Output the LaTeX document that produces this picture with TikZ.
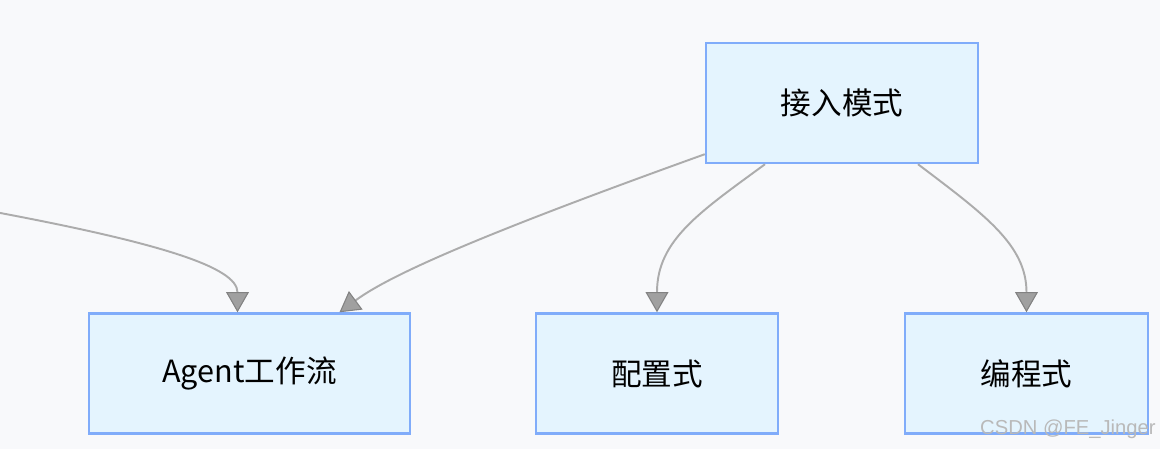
\documentclass[tikz,border=0pt]{standalone}
\usepackage{fontspec}
\setmainfont{Noto Sans CJK SC}
\newfontfamily\wmfont{Liberation Sans}
\usetikzlibrary{arrows.meta,calc}

\definecolor{bgcol}{RGB}{248,249,251}
\definecolor{boxfill}{RGB}{228,244,254}
\definecolor{boxline}{RGB}{128,172,250}
\definecolor{edgecol}{RGB}{172,172,172}
\definecolor{headcol}{RGB}{160,160,160}
\definecolor{headline}{RGB}{130,130,130}

\tikzset{
	box/.style={rectangle,draw=boxline,fill=boxfill,line width=1.4pt,
		minimum height=2.4cm,inner sep=0pt,font=\fontsize{17.4}{20}\selectfont},
	link/.style={draw=edgecol,line width=1.1pt,
		-{Triangle[length=11.5pt,width=13pt,fill=headcol,color=headline,line width=0.6pt]}}
}

\begin{document}
\begin{tikzpicture}[x=0.02cm,y=0.02cm]
	\fill[bgcol] (0,0) rectangle (1160,-449);
	\useasboundingbox (0,0) rectangle (1160,-449);
	\begin{scope}[every node/.style={box}]
	\node[minimum width=5.44cm] (mode) at (842,-103) {接入模式};
	\node[minimum width=6.42cm] (agent) at (249.5,-373.5) {Agent工作流};
	\node[minimum width=4.84cm] (cfg) at (657,-373.5) {配置式};
	\node[minimum width=4.86cm] (prog) at (1026.5,-373.5) {编程式};
	\end{scope}
	\coordinate (outside) at (-5,-212);
	\draw [link] (outside) .. controls (160,-243) and ($(agent.north)+(-12,45)$) .. ($(agent.north)+(-12,0)$);
	\draw [link] ($(mode.south west)+(0,10)$) .. controls (480,-235) and (390,-275) .. ($(agent.north)+(90,0)$);
	\draw [link] ($(mode.south)+(-77,0)$) .. controls (700,-212) and (657,-240) .. (cfg.north);
	\draw [link] ($(mode.south)+(76,0)$) .. controls (985,-215) and (1026.5,-245) .. (prog.north);
	\node[anchor=south east,text=gray!55,font=\wmfont\fontsize{11.5}{13}\selectfont,inner sep=0pt] (wm) at (1156,-439) {CSDN @FE\_Jinger};
\end{tikzpicture}
\end{document}
